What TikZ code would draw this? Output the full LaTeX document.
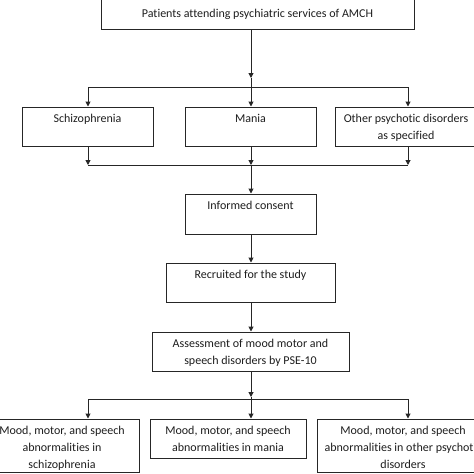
\documentclass[tikz,border=0pt]{standalone}
\usepackage{fontspec}
\setmainfont{Carlito}[Ligatures={NoCommon}]
\usetikzlibrary{arrows.meta}
\definecolor{ln}{HTML}{262626}
\definecolor{tx}{HTML}{1E1E1E}
\begin{document}
\begin{tikzpicture}[x=1pt,y=-1pt,
  box/.style={draw=ln,line width=1pt,inner sep=0pt,minimum width=#1},
  txt/.style={anchor=base,align=center,inner sep=0pt,text=tx,font=\fontsize{12}{17}\selectfont},
  arr/.style={draw=ln,line width=1pt,-{Triangle[length=5pt,width=5pt]}},
  ln/.style={draw=ln,line width=1pt}]
\clip (0,0) rectangle (474,474);
\fill[white] (0,0) rectangle (474,474);
% boxes
\node[box=313,minimum height=30] (top) at (257.5,14) {};
\node[box=131,minimum height=39] (schiz) at (87.5,126.5) {};
\node[box=131,minimum height=39] (mania) at (250.5,126.5) {};
\node[box=142,minimum height=39] (other) at (406,126.5) {};
\node[box=131,minimum height=40] (inform) at (250.5,214) {};
\node[box=169,minimum height=39] (recruit) at (250.5,282.5) {};
\node[box=197,minimum height=39] (assess) at (250.5,351.5) {};
\node[box=154,minimum height=53] (bl) at (62,445.5) {};
\node[box=156,minimum height=39] (bm) at (228,438.5) {};
\node[box=172,minimum height=53] (br) at (403,445.5) {};
% texts (base = baseline of last line)
\node[txt] (ttop) at (257.5,17) {Patients attending psychiatric services of AMCH};
\node[txt] (tschiz) at (87.5,122) {Schizophrenia};
\node[txt] (tmania) at (250.5,122) {Mania};
\node[txt] (tother) at (406,139) {Other psychotic disorders\\as specified};
\node[txt] (tinform) at (250.5,209) {Informed consent};
\node[txt] (trecruit) at (250.5,278) {Recruited for the study};
\node[txt] (tassess) at (250.5,364) {Assessment of mood motor and\\speech disorders by PSE-10};
\node[txt] (tbl) at (62,468) {Mood, motor, and speech\\abnormalities in\\schizophrenia};
\node[txt] (tbm) at (228,451) {Mood, motor, and speech\\abnormalities in mania};
\node[txt] (tbr) at (403,468) {Mood, motor, and speech\\abnormalities in other psychotic\\disorders};
% junction coordinates
\coordinate (a1) at (251,78);
\coordinate (j1l) at (88,87);
\coordinate (j1m) at (251,87);
\coordinate (j1r) at (408,87);
\coordinate (j2l) at (88,165);
\coordinate (j2m) at (251,165);
\coordinate (j2r) at (408,165);
\coordinate (a3) at (251,397);
\coordinate (j3l) at (88,399);
\coordinate (j3m) at (251,399);
\coordinate (j3r) at (408,399);
% connectors: top to first row
\draw[arr] (top.south -| a1) -- (a1);
\draw[ln] (a1) -- (j1m);
\draw[ln] (j1l) -- (j1r);
\draw[arr] (j1l) -- (j1l |- schiz.north);
\draw[arr] (j1m) -- (j1m |- mania.north);
\draw[arr] (j1r) -- (j1r |- other.north);
% first row to consent
\draw[arr] (schiz.south -| j2l) -- (j2l);
\draw[arr] (mania.south -| j2m) -- (j2m);
\draw[arr] (other.south -| j2r) -- (j2r);
\draw[ln] (j2l) -- (j2r);
\draw[arr] (j2m) -- (j2m |- inform.north);
\draw[arr] (inform.south -| j2m) -- (j2m |- recruit.north);
\draw[arr] (recruit.south -| j2m) -- (j2m |- assess.north);
% assessment to outcomes
\draw[arr] (assess.south -| a3) -- (a3);
\draw[ln] (a3) -- (j3m);
\draw[ln] (j3l) -- (j3r);
\draw[arr] (j3l) -- (j3l |- bl.north);
\draw[arr] (j3m) -- (j3m |- bm.north);
\draw[arr] (j3r) -- (j3r |- br.north);
\end{tikzpicture}
\end{document}
